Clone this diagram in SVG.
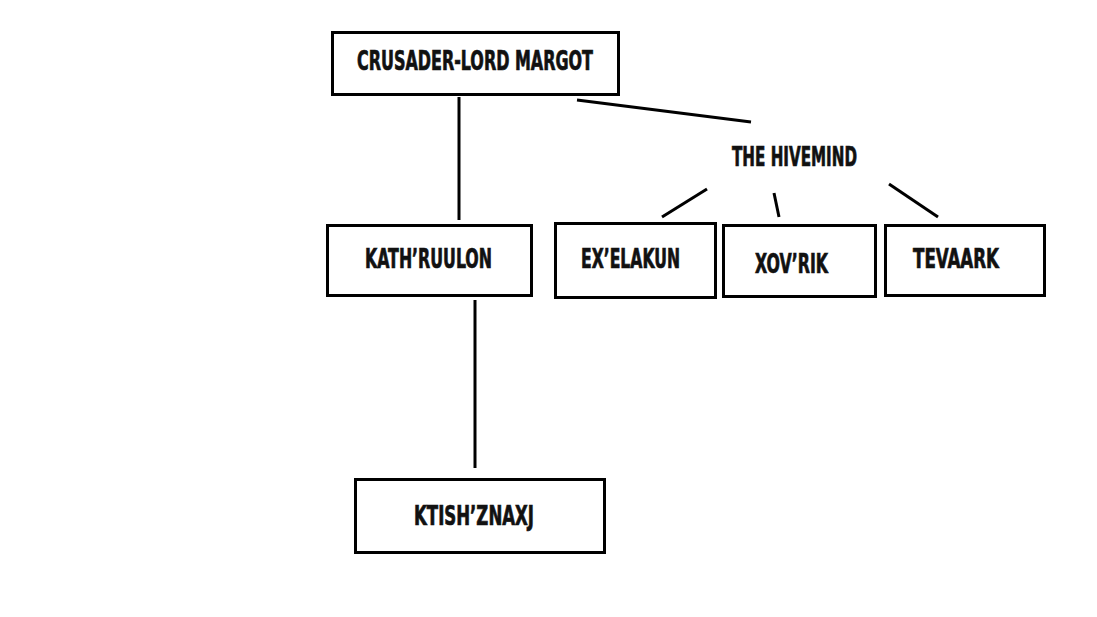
<svg xmlns="http://www.w3.org/2000/svg" width="1097" height="617" viewBox="0 0 1097 617">
<style>
.box{fill:#fff;stroke:#000;stroke-width:3}
.lbl{font-family:"Liberation Sans Narrow","DejaVu Sans Condensed","Liberation Sans",sans-serif;font-weight:bold;font-size:26px;fill:#111;stroke:#111;stroke-width:0.7}
.ln{stroke:#000;stroke-width:3;fill:none}
</style>
<rect width="1097" height="617" fill="#fff"/>
<g id="connectors">
<line class="ln" x1="459" y1="97" x2="459" y2="220"/>
<line class="ln" x1="577" y1="100" x2="751" y2="122"/>
<line class="ln" x1="662" y1="217" x2="707" y2="189"/>
<line class="ln" x1="774" y1="193" x2="779" y2="217"/>
<line class="ln" x1="889" y1="184" x2="938" y2="217"/>
<line class="ln" x1="475" y1="300" x2="475" y2="468"/>
</g>
<g id="margot"><rect class="box" x="332.5" y="32.5" width="286" height="62"/><text class="lbl" x="357" y="70" textLength="236" lengthAdjust="spacingAndGlyphs">CRUSADER-LORD MARGOT</text></g>
<g id="hivemind"><text class="lbl" x="732" y="166" textLength="125" lengthAdjust="spacingAndGlyphs">THE HIVEMIND</text></g>
<g id="kathruulon"><rect class="box" x="327.5" y="225.5" width="204" height="70"/><text class="lbl" x="365" y="268" textLength="127" lengthAdjust="spacingAndGlyphs">KATH’RUULON</text></g>
<g id="exelakun"><rect class="box" x="555.5" y="223.5" width="160" height="74"/><text class="lbl" x="581" y="268" textLength="99" lengthAdjust="spacingAndGlyphs">EX’ELAKUN</text></g>
<g id="xovrik"><rect class="box" x="723.5" y="225.5" width="152" height="71"/><text class="lbl" x="755" y="273" textLength="73" lengthAdjust="spacingAndGlyphs">XOV’RIK</text></g>
<g id="tevaark"><rect class="box" x="885.5" y="225.5" width="159" height="70"/><text class="lbl" x="913" y="268" textLength="86" lengthAdjust="spacingAndGlyphs">TEVAARK</text></g>
<g id="ktishznaxj"><rect class="box" x="355.5" y="479.5" width="249" height="73"/><text class="lbl" x="414" y="525" textLength="120" lengthAdjust="spacingAndGlyphs">KTISH’ZNAXJ</text></g>
</svg>
